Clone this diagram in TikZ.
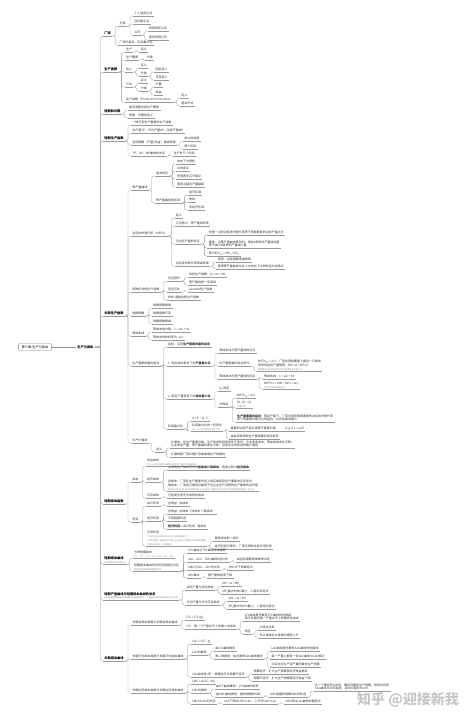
\documentclass[tikz,border=0pt]{standalone}
\usepackage{fontspec}
\setmainfont{Noto Sans CJK SC}
\usetikzlibrary{calc}
\newcommand{\nt}[1]{{\fontsize{2.1}{2.6}\selectfont\mdseries\color{black!45}#1}}
\newcommand{\sbs}[1]{\raisebox{-0.5pt}{\fontsize{2}{2}\selectfont #1}}

\begin{document}
\begin{tikzpicture}[x=1pt, y=-1pt,
	every node/.style={font=\fontsize{3}{3.7}\selectfont, text=black!80, inner xsep=1.2pt, inner ysep=0.6pt, anchor=south west, align=left},
	link/.style={draw=black!40, line width=0.3pt, rounded corners=1.5pt},
	topic/.style={append after command={(\tikzlastnode.south west) edge[link] (\tikzlastnode.south east)}},
	main/.style={topic, font=\fontsize{3.2}{3.9}\selectfont\bfseries, text=black}]
	\useasboundingbox (0,0) rectangle (474,718);
	% centre
	\node[draw=black!50, rounded corners=1pt, inner xsep=3pt, inner ysep=2pt, anchor=center, text=black, font=\fontsize{3.2}{3.9}\selectfont] (rt) at (35,347) {第三章-生产与成本};
	\node[anchor=west, font=\fontsize{3.2}{3.9}\selectfont\bfseries, text=black] (sc) at (76,347) {生产与成本};
	\draw[link] (rt) -- (sc);
	% main branches
	\foreach \n/\y/\txt in {cs/36/厂商, pf/72/生产函数, sl/114/短期和长期, sp/141/短期生产函数, lp/316/长期生产函数, scf/504/短期成本函数, scc/564/{短期成本曲线\\\nt{研究短期内的成本变动}}, rel/600/{短期产量曲线与短期成本曲线的关系\\\nt{边际报酬递减规律决定短期成本曲线的形状，产量曲线与成本曲线存在对应关系}}, lc/661/长期成本曲线} {
		\node[main] (\n) at (103,\y) {\txt};
		\draw[link] (sc.east) -- ++(6,0) |- (\n.south west);
	}
	% 厂商
	\foreach \n/\y/\txt in {cs1/26/分类, cs2/45/厂商的目标：利润最大化} {
		\node[topic] (\n) at ($(cs.south east |- 0,\y)+(6,0)$) {\txt};
		\draw[link] (cs.south east) -- ++(3,0) |- (\n.south west);
	}
	\foreach \n/\y/\txt in {cs11/16/个人独资企业, cs12/24/合伙制企业, cs13/35/公司} {
		\node[topic] (\n) at ($(cs1.south east |- 0,\y)+(6,0)$) {\txt};
		\draw[link] (cs1.south east) -- ++(3,0) |- (\n.south west);
	}
	\foreach \n/\y/\txt in {cs131/31/有限责任公司, cs132/40/股份有限公司} {
		\node[topic] (\n) at ($(cs13.south east |- 0,\y)+(6,0)$) {\txt};
		\draw[link] (cs13.south east) -- ++(3,0) |- (\n.south west);
	}
	% 生产函数
	\foreach \n/\y/\txt in {pf1/52/生产, pf2/60/生产要素, pf3/72/投入, pf4/87/产出, pf5/102/{生产函数（Production Function）}} {
		\node[topic] (\n) at ($(pf.south east |- 0,\y)+(6,0)$) {\txt};
		\draw[link] (pf.south east) -- ++(3,0) |- (\n.south west);
	}
	\foreach \p/\n/\y/\txt in {pf1/pf11/52/定义, pf2/pf21/60/分类, pf3/pf31/68/定义, pf3/pf32/76/分类, pf4/pf41/83/定义, pf4/pf42/91/分类, pf5/pf51/98/定义, pf5/pf52/106/基本形式} {
		\node[topic] (\n) at ($(\p.south east |- 0,\y)+(6,0)$) {\txt};
		\draw[link] (\p.south east) -- ++(3,0) |- (\n.south west);
	}
	\foreach \p/\n/\y/\txt in {pf32/pf321/72/固定投入, pf32/pf322/80/可变投入, pf42/pf421/87/产量, pf42/pf422/95/收益} {
		\node[topic] (\n) at ($(\p.south east |- 0,\y)+(6,0)$) {\txt};
		\draw[link] (\p.south east) -- ++(3,0) |- (\n.south west);
	}
	% 短期和长期, 短期生产函数
	\foreach \p/\n/\y/\txt in {sl/sl1/110/能否调整全部生产要素, sl/sl2/118/短期、长期的定义, sp/sp1/125/一种可变生产要素的生产函数, sp/sp2/133/{总产量TP、平均产量AP、边际产量MP}, sp/sp3/145/{边际报酬（产量/收益）递减规律}, sp/sp4/156/{TP、AP、MP曲线的关系}} {
		\node[topic] (\n) at ($(\p.south east |- 0,\y)+(6,0)$) {\txt};
		\draw[link] (\p.south east) -- ++(3,0) |- (\n.south west);
	}
	\foreach \p/\n/\y/\txt in {sp3/sp31/141/成立的前提, sp3/sp32/149/两个阶段, sp4/sp41/156/生产的三个阶段} {
		\node[topic] (\n) at ($(\p.south east |- 0,\y)+(6,0)$) {\txt};
		\draw[link] (\p.south east) -- ++(3,0) |- (\n.south west);
	}
	% 长期生产函数
	\foreach \n/\y/\txt in {lp1/190/等产量曲线, lp2/236/{边际技术替代率（MRTS）}, lp3/292/特殊形式的生产函数, lp4/316/规模报酬, lp5/336/等成本线, lp6/366/生产要素的最优组合, lp7/443/生产扩展线} {
		\node[topic] (\n) at ($(lp.south east |- 0,\y)+(6,0)$) {\txt};
		\draw[link] (lp.south east) -- ++(3,0) |- (\n.south west);
	}
	\foreach \p/\n/\y/\txt in {lp1/lp11/176/基本特征, lp1/lp12/203/等产量曲线的区域, lp2/lp21/218/定义, lp2/lp22/226/{几何意义：等产量线斜率}, lp2/lp23/244/与边际产量的关系, lp2/lp24/266/边际技术替代率递减规律, lp3/lp31/281/完全替代, lp3/lp32/292/完全互补, lp3/lp33/300/{柯布-道格拉斯生产函数}, lp4/lp41/308/规模报酬递增, lp4/lp42/316/规模报酬不变, lp4/lp43/324/规模报酬递减, lp5/lp51/332/{等成本线方程：C = wL + rK}, lp5/lp52/340/{等成本线的斜率为 -w/r}, lp6/lp61/347/{目标：实现\textbf{生产要素的最优组合}}, lp6/lp62/366/{1. 既定成本条件下的\textbf{产量最大化}}, lp6/lp63/399/{2. 既定产量条件下的\textbf{成本最小化}}, lp6/lp64/429/利润最大化, lp7/lp71/452/含义} {
		\node[topic] (\n) at ($(\p.south east |- 0,\y)+(6,0)$) {\txt};
		\draw[link] (\p.south east) -- ++(3,0) |- (\n.south west);
	}
	\foreach \p/\n/\y/\txt in {lp11/lp111/164/向右下方倾斜, lp11/lp112/171/凸向原点, lp11/lp113/179/任意两条互不相交, lp11/lp114/187/离原点越远产量越高, lp12/lp121/195/经济区域, lp12/lp122/202/脊线, lp12/lp123/210/非经济区域, lp23/lp231/235/任意一点的边际技术替代率等于两种要素的边际产量之比, lp23/lp232/248/{推导：沿等产量曲线移动时，增加L带来的产量增加量\\等于减少K带来的产量减少量}, lp23/lp233/256/{即 MRTS\sbs{LK} = MP\sbs{L} / MP\sbs{K}}, lp24/lp241/262/原因：边际报酬递减规律, lp24/lp242/269/使得等产量曲线从左上方向右下方倾斜且凸向原点, lp31/lp311/277/{线性生产函数：Q = aL + bK}, lp31/lp312/285/等产量线是一条直线, lp32/lp321/292/{Leontief生产函数}} {
		\node[topic] (\n) at ($(\p.south east |- 0,\y)+(6,0)$) {\txt};
		\draw[link] (\p.south east) -- ++(3,0) |- (\n.south west);
	}
	\foreach \p/\n/\y/\txt in {lp62/lp621/353/等成本线与等产量线的切点, lp62/lp622/366/生产要素最优组合条件, lp62/lp623/379/等成本线与等产量线的关系, lp63/lp631/391/{Q\sbs{0} 既定}, lp63/lp632/407/方程组, lp64/lp641/421/{π = P·Q - C}, lp64/lp642/431/{利润最大化的一阶条件\\\nt{对L、K分别求偏导并令其为零}}, lp71/lp711/448/{扩展线：在生产要素价格、生产技术和其他条件不变时，企业改变成本，等成本线发生平移；\\企业改变产量，等产量曲线发生平移，这些切点的轨迹就是扩展线}, lp71/lp712/457/扩展线是厂商长期扩张或收缩生产的路线} {
		\node[topic] (\n) at ($(\p.south east |- 0,\y)+(6,0)$) {\txt};
		\draw[link] (\p.south east) -- ++(3,0) |- (\n.south west);
	}
	\foreach \p/\n/\y/\txt in {lp622/lp6221/371/{MRTS\sbs{LK} = w/r，厂商在两种要素上最后一元成本\\带来的边际产量相等：MP\sbs{L}/w = MP\sbs{K}/r\\\nt{两要素的边际技术替代率等于两要素的价格之比}}, lp623/lp6231/379/{等成本线：C = wL + rK}, lp623/lp6232/389/{MRTS\sbs{LK} = MP\sbs{L} / MP\sbs{K} = w/r\\\nt{切点即为最优要素组合}}, lp632/lp6321/398/{MRTS\sbs{LK} = w/r}, lp632/lp6322/408/{f(L, K) = Q\sbs{0}\\\nt{产量约束}}, lp632/lp6323/422/{\textbf{生产要素最优组合}：既定产量下，厂商应选择使两要素的边际技术替代率\\等于两要素价格之比的组合，以实现成本最小}, lp642/lp6421/431/要素的边际产品价值等于要素价格, lp642/lp6422/439/由此同样得到生产要素最优组合条件} {
		\node[topic] (\n) at ($(\p.south east |- 0,\y)+(6,0)$) {\txt};
		\draw[link] (\p.south east) -- ++(3,0) |- (\n.south west);
	}
	\node[topic] (lp64211) at ($(lp6421.south east)+(6,0)$) {∂Q/∂L = w/P};
	\draw[link] (lp6421.south east) -- (lp64211.south west);
	% 短期成本函数
	\foreach \p/\n/\y/\txt in {scf/scf1/482/成本, scf/scf2/522/利润} {
		\node[topic] (\n) at ($(\p.south east |- 0,\y)+(6,0)$) {\txt};
		\draw[link] (\p.south east) -- ++(3,0) |- (\n.south west);
	}
	\foreach \p/\n/\y/\txt in {scf1/scf11/466/{机会成本\\\nt{生产一单位某种商品放弃的其他生产用途中的最高收入}}, scf1/scf12/482/经济成本, scf1/scf13/498/沉没成本, scf2/scf21/506/会计利润, scf2/scf22/521/经济利润, scf2/scf23/546/{正常利润\\\nt{厂商对自己所提供的企业家才能的报酬支付}\\\nt{正常利润是厂商继续留在原行业从事生产经营所必需的最低报酬}\\\nt{它是隐成本的一个组成部分}}} {
		\node[topic] (\n) at ($(\p.south east |- 0,\y)+(6,0)$) {\txt};
		\draw[link] (\p.south east) -- ++(3,0) |- (\n.south west);
	}
	\foreach \p/\n/\y/\txt in {scf12/scf121/470/{企业的生产成本可分为\textbf{显成本}和\textbf{隐成本}，两者之和为\textbf{经济成本}}, scf12/scf122/491/{显成本：厂商在生产要素市场上购买或租用生产要素的实际支出\\隐成本：厂商自己拥有且被用于该企业生产过程的生产要素的总价格\\\nt{隐成本必须从机会成本的角度按照企业自有生产要素在其他用途中所能得到的最高收入来支付}}, scf13/scf131/498/已经发生而无法收回的成本, scf21/scf211/506/{总收益 - 显成本}, scf22/scf221/514/{总收益 - 总成本（显成本 + 隐成本）}, scf22/scf222/521/又称超额利润, scf22/scf223/529/{\textbf{经济利润} = 会计利润 - 隐成本}, scf23/scf231/541/是隐成本的一部分, scf23/scf232/549/经济利润为零时，厂商仍得到全部正常利润} {
		\node[topic] (\n) at ($(\p.south east |- 0,\y)+(6,0)$) {\txt};
		\draw[link] (\p.south east) -- ++(3,0) |- (\n.south west);
	}
	% 短期成本曲线
	\foreach \p/\n/\y/\txt in {scc/scc1/558/{七种短期成本\\\nt{TFC、TVC、STC、AFC、AVC、SAC、SMC}}, scc/scc2/571/{短期成本曲线的形状及其相互关系\\\nt{都受边际报酬递减规律的影响}}} {
		\node[topic] (\n) at ($(\p.south east |- 0,\y)+(6,0)$) {\txt};
		\draw[link] (\p.south east) -- ++(3,0) |- (\n.south west);
	}
	\foreach \p/\n/\y/\txt in {scc2/scc21/553/STC曲线与TVC曲线形状相同, scc2/scc22/562/{SAC、AVC、SMC曲线均呈U形}, scc2/scc23/570/{SMC与SAC、AVC的关系}, scc2/scc24/578/AFC曲线} {
		\node[topic] (\n) at ($(\p.south east |- 0,\y)+(6,0)$) {\txt};
		\draw[link] (\p.south east) -- ++(3,0) |- (\n.south west);
	}
	\foreach \p/\n/\y/\txt in {scc22/scc221/562/由边际报酬递减规律决定, scc23/scc231/570/SMC交于其最低点, scc24/scc241/578/随产量增加而下降} {
		\node[topic] (\n) at ($(\p.south east |- 0,\y)+(6,0)$) {\txt};
		\draw[link] (\p.south east) -- ++(3,0) |- (\n.south west);
	}
	% 短期产量曲线与短期成本曲线的关系
	\foreach \p/\n/\y/\txt in {rel/rel1/590/边际产量与边际成本, rel/rel2/605/平均产量与平均可变成本} {
		\node[topic] (\n) at ($(\p.south east |- 0,\y)+(6,0)$) {\txt};
		\draw[link] (\p.south east) -- ++(3,0) |- (\n.south west);
	}
	\foreach \p/\n/\y/\txt in {rel1/rel11/586/{MC = w / MP\sbs{L}}, rel1/rel12/594/{MP\sbs{L}最大时MC最小，二者反向变动}, rel2/rel21/601/{AVC = w / AP\sbs{L}}, rel2/rel22/609/{AP\sbs{L}最大时AVC最小，二者反向变动}} {
		\node[topic] (\n) at ($(\p.south east |- 0,\y)+(6,0)$) {\txt};
		\draw[link] (\p.south east) -- ++(3,0) |- (\n.south west);
	}
	% 长期成本曲线
	\foreach \p/\n/\y/\txt in {lc/lc1/625/长期总成本函数与长期总成本曲线, lc/lc2/659/长期平均成本函数与长期平均成本曲线, lc/lc3/693/长期边际成本函数与长期边际成本曲线} {
		\node[topic] (\n) at ($(\p.south east |- 0,\y)+(6,0)$) {\txt};
		\draw[link] (\p.south east) -- ++(3,0) |- (\n.south west);
	}
	\foreach \p/\n/\y/\txt in {lc1/lc11/620/{LTC = LTC(Q)}, lc1/lc12/629/LTC：每一个产量水平上的最小总成本, lc2/lc21/644/{LAC = LTC / Q}, lc2/lc22/655/LAC的推导, lc2/lc23/677/LAC曲线呈U形：规模经济与规模不经济, lc3/lc31/684/{LMC = ΔLTC / ΔQ}, lc3/lc32/693/LMC的推导, lc3/lc33/704/LMC与LAC的关系} {
		\node[topic] (\n) at ($(\p.south east |- 0,\y)+(6,0)$) {\txt};
		\draw[link] (\p.south east) -- ++(3,0) |- (\n.south west);
	}
	\foreach \p/\n/\y/\txt in {lc12/lc121/621/{LTC曲线是无数条STC曲线的包络线，\\表示长期内每一产量水平上的最低总成本}, lc12/lc122/634/特征, lc22/lc221/651/由LTC曲线推导, lc22/lc222/659/第二种推导：由无数条SAC曲线推导, lc23/lc231/674/规模经济：扩大生产规模使经济效益提高, lc23/lc232/681/规模不经济：扩大生产规模使经济效益下降, lc32/lc321/689/由LTC曲线推导：LTC曲线的斜率, lc32/lc322/697/由SMC曲线推导：最优规模的SMC, lc33/lc331/704/{LAC下降时LMC<LAC，上升时LMC>LAC}} {
		\node[topic] (\n) at ($(\p.south east |- 0,\y)+(6,0)$) {\txt};
		\draw[link] (\p.south east) -- ++(3,0) |- (\n.south west);
	}
	\foreach \p/\n/\y/\txt in {lc122/lc1221/630/从原点出发, lc122/lc1222/638/先以递减后以递增的速度上升, lc222/lc2221/651/LAC曲线是无数条SAC曲线的包络线, lc222/lc2222/659/每一产量上都有一条SAC曲线与LAC相切, lc222/lc2223/667/切点对应生产该产量的最优生产规模, lc322/lc3221/697/LMC是最优规模SMC的轨迹, lc331/lc3311/704/LMC穿过LAC曲线的最低点} {
		\node[topic] (\n) at ($(\p.south east |- 0,\y)+(6,0)$) {\txt};
		\draw[link] (\p.south east) -- ++(3,0) |- (\n.south west);
	}
	\node[topic] (lc32211) at ($(lc3221.south east |- 0,691)+(6,0)$) {从一个确定的Q出发，确定其最优生产规模，找到对应的\\SAC曲线与SMC曲线，该SMC值即为LMC};
	\draw[link] (lc3221.south east) -- ++(3,0) |- (lc32211.south west);
	% watermark
	\node[anchor=center, text=black!22, font=\fontsize{14}{16}\selectfont\bfseries] (wm) at (408,700) {知乎 @迎接新我};
\end{tikzpicture}
\end{document}
